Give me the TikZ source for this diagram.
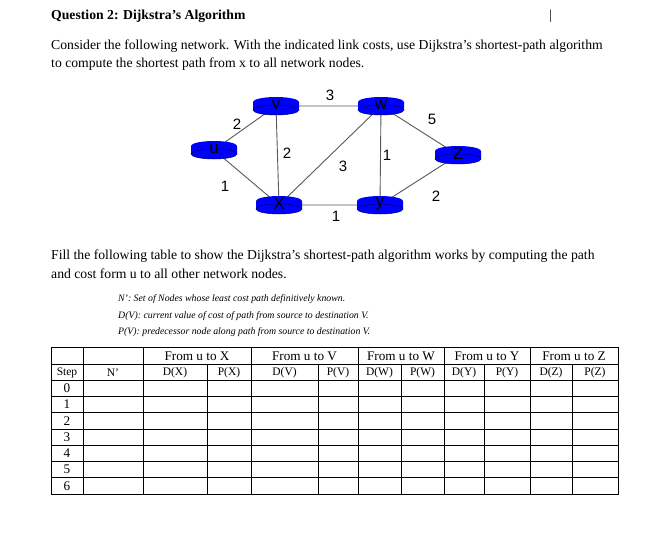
\documentclass[tikz,border=0pt]{standalone}
\usepackage{fontspec}
\setmainfont{Liberation Serif}
\newfontfamily\gsans{Liberation Sans}
\begin{document}
\begin{tikzpicture}[x=1pt,y=-1pt,
  txt/.style={anchor=west,inner sep=0,font=\fontsize{13.7}{15}\selectfont},
  note/.style={anchor=west,inner sep=0,font=\fontsize{9.8}{11}\selectfont\itshape},
  tb/.style={inner sep=0,font=\fontsize{13.2}{14}\selectfont},
  lbl/.style={inner sep=0,font=\gsans\fontsize{15}{16}\selectfont},
  nlbl/.style={inner sep=0,font=\gsans\fontsize{17}{18}\selectfont},
  edge/.style={draw=gray!70!black,line width=0.9pt}]
\useasboundingbox (0,0) rectangle (656,543);
\fill[white] (0,0) rectangle (656,543);
\node[txt,font=\fontsize{13.7}{15}\selectfont\bfseries] (title) at (51,16) {Question 2: Dijkstra's Algorithm};
\node[txt] (bar) at (549,16) {|};
\node[txt] (p1) at (51,46) {Consider the following network. With the indicated link costs, use Dijkstra's shortest-path algorithm};
\node[txt] (p2) at (51,64) {to compute the shortest path from x to all network nodes.};
\node[txt] (f1) at (51,256) {Fill the following table to show the Dijkstra's shortest-path algorithm works by computing the path};
\node[txt] (f2) at (51,274) {and cost form u to all other network nodes.};
\node[note] (n1) at (118,299) {N': Set of Nodes whose least cost path definitively known.};
\node[note] (n2) at (118,316) {D(V): current value of cost of path from source to destination V.};
\node[note] (n3) at (118,332) {P(V): predecessor node along path from source to destination V.};
% graph
\foreach \n/\x/\y in {u/214/150, v/276/106, w/381/106, z/458/155, x/279/205, y/380/205}
  \coordinate (\n) at (\x,\y);
\draw[edge] (u)--(v) (u)--(x) (v)--(w) (v)--(x) (x)--(w) (w)--(y) (x)--(y) (w)--(z) (y)--(z);
\foreach \n/\t in {u/u, v/v, w/w, z/Z, x/X, y/y}{
  \fill[blue] ([xshift=-23,yshift=-4]\n) -- ([xshift=-23,yshift=4]\n) arc[start angle=180,end angle=360,x radius=23,y radius=5] -- ([xshift=23,yshift=-4]\n) arc[start angle=0,end angle=180,x radius=23,y radius=5] -- cycle;
  \draw[blue!40!black,line width=0.5pt] ([yshift=-4]\n) ellipse[x radius=23,y radius=5];
  \node[nlbl] (L\n) at ([yshift=1]\n) {\t};
}
\foreach \t/\x/\y [count=\i] in {3/330/95, 2/237/124, 5/432/119, 2/287/153, 3/343/166, 1/387/155, 1/225/186, 2/436/196, 1/336/216}
  \node[lbl] (e\i) at (\x,\y) {\t};
% table
\draw[line width=0.6pt] (51,347) rectangle (618,494);
\foreach \yy in {364,380,396.3,412.6,428.9,445.1,461.4,477.7}
  \draw[line width=0.6pt] (51,\yy) -- (618,\yy);
\foreach \xx in {83,143,251,358,444,530}
  \draw[line width=0.6pt] (\xx,347) -- (\xx,494);
\foreach \xx in {207,318,401,484,572}
  \draw[line width=0.6pt] (\xx,364) -- (\xx,494);
\foreach \t/\a/\b [count=\i] in {X/143/251, V/251/358, W/358/444, Y/444/530, Z/530/618}
  \node[tb] (g\i) at ({(\a+\b)/2},356) {From u to \t};
\foreach \t/\a/\b [count=\i] in {Step/51/83, N'/83/143, D(X)/143/207, P(X)/207/251, D(V)/251/318, P(V)/318/358, D(W)/358/401, P(W)/401/444, D(Y)/444/484, P(Y)/484/530, D(Z)/530/572, P(Z)/572/618}
  \node[tb,font=\fontsize{11.5}{12}\selectfont] (h\i) at ({(\a+\b)/2},373) {\t};
\foreach \s in {0,...,6}
  \node[tb] (s\s) at (67,{388.2+16.28*\s}) {\s};
\end{tikzpicture}
\end{document}
